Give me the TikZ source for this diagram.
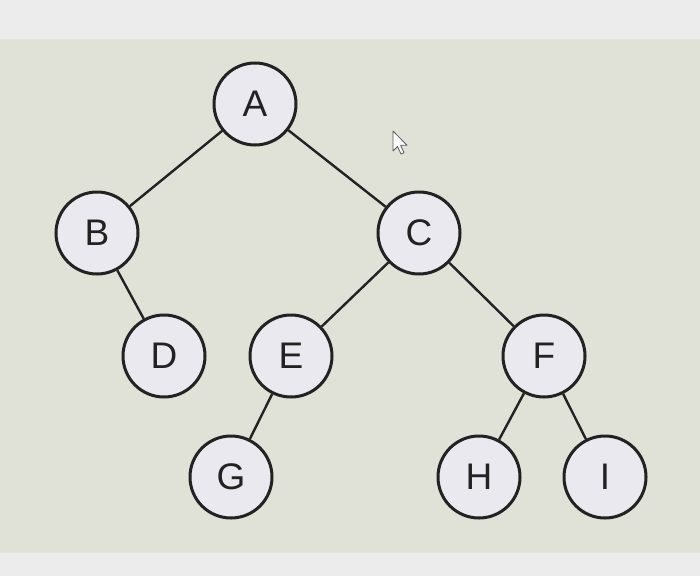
\documentclass[tikz,border=0pt]{standalone}
\usepackage{fontspec}
\setmainfont{Liberation Sans}
\definecolor{bgmain}{HTML}{E0E2D8}
\definecolor{bgstrip}{HTML}{ECECEC}
\definecolor{nodefill}{HTML}{E9E9EF}
\definecolor{edgecol}{HTML}{222222}
\begin{document}
\begin{tikzpicture}[x=1pt,y=-1pt,
  tnode/.style={circle,draw=edgecol,line width=3pt,fill=nodefill,minimum size=82pt,inner sep=0pt,
    font=\fontsize{37}{40}\selectfont,text=edgecol},
  tedge/.style={draw=edgecol,line width=2.4pt}]
\useasboundingbox (0,0) rectangle (700,576);
\fill[bgstrip] (0,0) rectangle (700,576);
\fill[bgmain] (0,39) rectangle (700,553);
\node[tnode] (A) at (255,104) {A};
\node[tnode] (B) at (97,233) {B};
\node[tnode] (C) at (419,233) {C};
\node[tnode] (D) at (164,356) {D};
\node[tnode] (E) at (291,356) {E};
\node[tnode] (F) at (544,356) {F};
\node[tnode] (G) at (231,477) {G};
\node[tnode] (H) at (479,477) {H};
\node[tnode] (I) at (605,477) {I};
\draw[tedge] (A) -- (B);
\draw[tedge] (A) -- (C);
\draw[tedge] (B) -- (D);
\draw[tedge] (C) -- (E);
\draw[tedge] (C) -- (F);
\draw[tedge] (E) -- (G);
\draw[tedge] (F) -- (H);
\draw[tedge] (F) -- (I);
% mouse cursor
\coordinate (cur) at (393,131);
\draw[fill=white,draw=gray!70!black,line width=0.8pt,line join=round]
  (cur) -- ++(0,20) -- ++(4.5,-4.5) -- ++(3.5,7.5) -- ++(3,-1.3) -- ++(-3.4,-7.4) -- ++(6.4,0) -- cycle;
\end{tikzpicture}
\end{document}
